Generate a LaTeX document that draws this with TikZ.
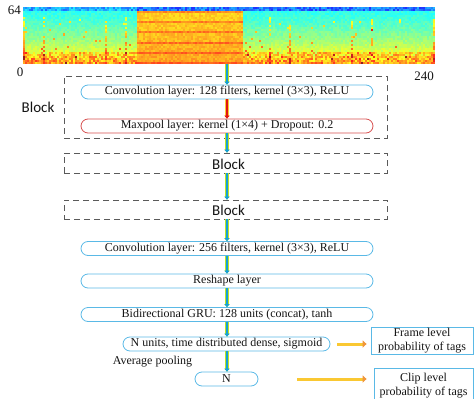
\documentclass[tikz,border=0pt]{standalone}
\usepackage{fontspec}
\setmainfont{Liberation Serif}
\newfontfamily\blockfont{Carlito}
\usetikzlibrary{arrows.meta}
\definecolor{boxblue}{RGB}{90,185,230}
\definecolor{boxred}{RGB}{215,80,80}
\definecolor{dashgray}{RGB}{90,90,90}
\definecolor{flowcyan}{RGB}{20,160,215}
\definecolor{flowyellow}{RGB}{190,228,40}
\definecolor{flowred}{RGB}{225,20,20}
\definecolor{flowamber}{RGB}{250,200,50}
\definecolor{floworange}{RGB}{240,150,60}
\definecolor{txt}{RGB}{20,20,20}
\begin{document}
\begin{tikzpicture}[x=1pt,y=-1pt,
  layer/.style={draw=boxblue, line width=0.8pt, rounded corners=7pt, minimum width=292pt, minimum height=14pt, inner sep=0pt, font=\fontsize{12}{14}\selectfont, text=txt},
  redlayer/.style={layer, draw=boxred},
  outbox/.style={draw=boxblue, line width=0.8pt, inner sep=1pt, align=center, font=\fontsize{12}{14}\selectfont, text=txt},
  blockbox/.style={draw=dashgray, line width=0.8pt, dash pattern=on 6pt off 4pt, minimum width=323pt, inner sep=0pt},
  blocktext/.style={font=\blockfont\fontsize{15}{18}\selectfont, text=txt},
  plain/.style={font=\fontsize{12}{14}\selectfont, text=txt},
  axis/.style={font=\fontsize{13}{15}\selectfont, text=txt},
  flow/.style={draw=flowcyan, line width=1.8pt, preaction={draw=flowyellow, line width=4pt}, -{Triangle[length=3pt,width=5pt]}},
  redflow/.style={draw=flowred, line width=1.8pt, preaction={draw=flowamber, line width=4pt}, -{Triangle[length=3pt,width=5pt]}},
  outflow/.style={draw=flowamber, line width=3pt, -{Triangle[length=4pt,width=7pt,fill=floworange,color=floworange]}},
]
\useasboundingbox (0,0) rectangle (474,399);
\clip (0,0) rectangle (474,399);
% spectrogram
\pgfmathsetseed{12}
\foreach \i in {0,...,205}{
  \foreach \j in {0,...,27}{
    \pgfmathsetmacro\xf{\i/205}
    \pgfmathsetmacro\yf{\j/27}
    \pgfmathsetmacro\loud{and(\xf>0.276,\xf<0.535)}
    \pgfmathsetmacro\v{\loud*(0.67+0.06*\yf+0.08*(mod(\j,5)==2)+0.03*rand)+(1-\loud)*(0.39+0.29*\yf*sqrt(\yf)+0.1*(\yf>0.8)*(rand+0.6)+0.2*(mod(\i*37,41)<2)*(\yf>0.15)*(rand>-0.3)+0.22*(rand>0.97)*(\yf>0.2)+0.03*rand)}
    \pgfmathsetmacro\v{(\yf<0.07) ? (0.28-0.06*(\xf>0.276)+0.08*rand) : \v}
    \pgfmathsetmacro\v{max(0,min(1,\v))}
    \pgfmathsetmacro\rr{max(0,min(1,1.5-abs(4*\v-3)))}
    \pgfmathsetmacro\gg{max(0,min(1,1.5-abs(4*\v-2)))}
    \pgfmathsetmacro\bb{max(0,min(1,1.5-abs(4*\v-1)))}
    \definecolor{spc}{rgb}{\rr,\gg,\bb}
    \fill[spc!88!white] (23+2*\i,7+2.036*\j) rectangle ++(2.1,2.1);
  }
}
\node[minimum width=412pt, minimum height=57pt, inner sep=0pt] (spec) at (229,35.5) {};
\node[axis] (lab64) at (14.5,10.5) {64};
\node[axis] (lab0) at (20,72) {0};
\node[axis] (lab240) at (424,76) {240};
% blocks
\node[blockbox, minimum height=62pt] (block1) at (225.5,107) {};
\node[blocktext] (block1lab) at (38,107) {Block};
\node[blockbox, minimum height=20pt] (block2) at (225.5,163) {};
\node[blocktext] (block2lab) at (228.5,164) {Block};
\node[blockbox, minimum height=19pt] (block3) at (225.5,209.5) {};
\node[blocktext] (block3lab) at (228.5,210) {Block};
% layers
\node[layer] (conv1) at (227,92) {Convolution layer: 128 filters, kernel (3×3), ReLU};
\node[redlayer] (maxpool) at (227,126) {Maxpool layer: kernel (1×4) + Dropout: 0.2};
\node[layer] (conv256) at (227,248.5) {Convolution layer: 256 filters, kernel (3×3), ReLU};
\node[layer] (reshape) at (227,281) {Reshape layer};
\node[layer] (gru) at (227,314.5) {Bidirectional GRU: 128 units (concat), tanh};
\node[layer, minimum width=207pt] (nunits) at (226.5,344) {N units, time distributed dense, sigmoid};
\node[plain] (avgpool) at (152.5,362) {Average pooling};
\node[layer, minimum width=63pt] (nout) at (226.5,379) {N};
\node[outbox, minimum width=102pt, minimum height=27pt] (frame) at (422,340.5) {Frame level\\probability of tags};
\node[outbox, minimum width=99pt, minimum height=36pt] (clip) at (423.5,386) {Clip level\\probability of tags};
% connectors
\draw[flow] (conv1.north |- spec.south) -- (conv1.north);
\draw[redflow] (conv1.south) -- (maxpool.north);
\draw[flow] (maxpool.south) -- (maxpool.south |- block2.north);
\draw[flow] (maxpool.south |- block2.south) -- (maxpool.south |- block3.north);
\draw[flow] (maxpool.south |- block3.south) -- (conv256.north);
\draw[flow] (conv256.south) -- (reshape.north);
\draw[flow] (reshape.south) -- (gru.north);
\draw[flow] (gru.south) -- (gru.south |- nunits.north);
\draw[flow] (gru.south |- nunits.south) -- (gru.south |- nout.north);
\draw[outflow, shorten <=7pt, shorten >=4pt] (nunits.east) -- (nunits.east -| frame.west);
\draw[outflow, shorten <=39pt, shorten >=7pt] (nout.east) -- (nout.east -| clip.west);
\end{tikzpicture}
\end{document}
